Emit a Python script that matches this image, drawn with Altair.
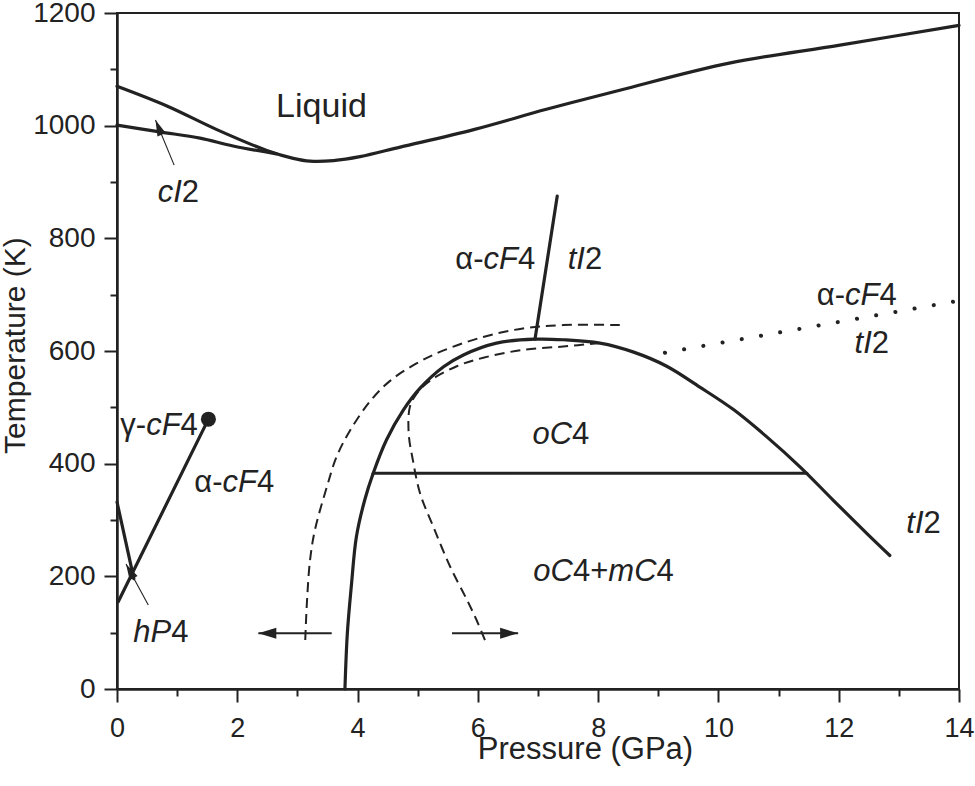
import math
import altair as alt
import pandas as pd

# ---- phase boundaries (pressure in GPa, temperature in K) ----
melt_p = [0.0, 0.83, 1.66, 2.49, 2.93, 3.21, 3.60, 4.04, 4.71, 5.93, 7.14, 8.36, 10.18, 12.02, 14.0]
melt_t = [1070, 1035, 993, 956, 942, 937, 938, 945, 962, 993, 1029, 1063, 1111, 1143, 1178]

ci2_p = [0.0, 0.71, 1.38, 1.93, 2.65]
ci2_t = [1001, 989, 978, 964, 950]

dome_p = [3.79, 3.83, 3.90, 3.98, 4.12, 4.26, 4.48, 4.76, 5.04, 5.43, 5.76, 6.31, 6.95,
          7.42, 8.03, 8.59, 9.14, 9.69, 10.25, 10.80, 11.36, 11.91, 12.47, 12.85]
dome_t = [0, 99, 187, 270, 336, 383, 442, 495, 534, 572, 593, 614, 621,
          620, 614, 598, 573, 536, 496, 448, 394, 335, 276, 237]

oc4_p = [4.26, 11.47]
oc4_t = [383, 383]

ti2_p = [6.95, 7.32]
ti2_t = [621, 875]

gamma_alpha_p = [0.02, 1.52]
gamma_alpha_t = [155, 479]

hp4_p = [0.0, 0.28]
hp4_t = [332, 196]

# dashed hysteresis limits
dash_up_p = [3.13, 3.16, 3.21, 3.29, 3.49, 3.65, 3.87, 4.21, 4.54, 4.98, 5.43, 6.09, 6.75, 7.42, 8.36]
dash_up_t = [87, 158, 229, 282, 359, 412, 458, 511, 547, 578, 601, 625, 640, 646, 646]

dash_lo_p = [8.03, 7.42, 6.75, 6.09, 5.65, 5.20, 4.98, 4.87, 4.85, 4.92, 5.04, 5.26, 5.54, 5.82, 5.98, 6.15]
dash_lo_t = [614, 608, 602, 588, 573, 547, 524, 501, 454, 406, 347, 288, 217, 158, 122, 78]

# dotted alpha-cF4 / tI2 boundary
dot_p = [9.11, 13.93]
dot_t = [597, 688]

# critical point
crit_p = [1.52]
crit_t = [479]

# arrows: (start P, start T, tip P, tip T)
big_arrows = [(3.57, 99, 2.35, 99), (5.57, 99, 6.67, 99)]
small_arrows = [(0.95, 930, 0.64, 1010), (0.52, 149, 0.15, 222)]

# region labels: centre P, baseline T, pieces (text, italic?)
labels = [
    (1.02, 865, [("cI", True), ("2", False)]),
    (6.29, 745, [("α-", False), ("cF", True), ("4", False)]),
    (7.78, 745, [("tI", True), ("2", False)]),
    (12.30, 682, [("α-", False), ("cF", True), ("4", False)]),
    (12.55, 597, [("tI", True), ("2", False)]),
    (0.70, 451, [("γ-", False), ("cF", True), ("4", False)]),
    (1.95, 350, [("α-", False), ("cF", True), ("4", False)]),
    (0.73, 84, [("hP", True), ("4", False)]),
    (7.38, 435, [("oC", True), ("4", False)]),
    (8.09, 192, [("oC", True), ("4+", False), ("mC", True), ("4", False)]),
    (13.41, 277, [("tI", True), ("2", False)]),
]
liquid_label = (3.40, 1015, "Liquid")

# ---- layout ----
W, H = 842, 676
P_MAX, T_MAX = 14, 1200
PX_P = W / P_MAX
PX_T = H / T_MAX
INK = "#222222"
FONT = "Liberation Sans"
LABEL_SIZE = 31

ADV = {"c": 0.5, "I": 0.278, "2": 0.556, "4": 0.556, "-": 0.333, "F": 0.611, "t": 0.278,
       "h": 0.556, "P": 0.667, "o": 0.556, "C": 0.722, "+": 0.584, "m": 0.833,
       "α": 0.578, "γ": 0.5}


def curve_frame(named):
    rows = []
    for name, ps, ts in named:
        for i, (p, t) in enumerate(zip(ps, ts)):
            rows.append({"P": p, "T": t, "curve": name, "i": i})
    return pd.DataFrame(rows)


solid = curve_frame([
    ("melt", melt_p, melt_t), ("ci2", ci2_p, ci2_t), ("dome", dome_p, dome_t),
    ("oc4", oc4_p, oc4_t), ("ti2", ti2_p, ti2_t),
    ("gamma_alpha", gamma_alpha_p, gamma_alpha_t), ("hp4", hp4_p, hp4_t),
])
dashed = curve_frame([("up", dash_up_p, dash_up_t), ("lo", dash_lo_p, dash_lo_t)])
dotted = curve_frame([("dot", dot_p, dot_t)])


def arrow_frames(arrows):
    shafts, heads = [], []
    for k, (p0, t0, p1, t1) in enumerate(arrows):
        shafts.append({"P": p0, "T": t0, "curve": k, "i": 0})
        shafts.append({"P": p1, "T": t1, "curve": k, "i": 1})
        dx = (p1 - p0) * PX_P
        dy = -(t1 - t0) * PX_T
        ang = math.degrees(math.atan2(dx, -dy)) % 360
        heads.append({"P": p1, "T": t1, "angle": ang})
    return pd.DataFrame(shafts), pd.DataFrame(heads)


big_shafts, big_heads = arrow_frames(big_arrows)
small_shafts, small_heads = arrow_frames(small_arrows)

piece_rows = []
for cp, bt, pieces in labels:
    total = sum(ADV.get(ch, 0.556) for s, _ in pieces for ch in s) * LABEL_SIZE
    left = cp * PX_P - total / 2
    for s, ital in pieces:
        piece_rows.append({"P": left / PX_P, "T": bt, "text": s, "italic": ital})
        left += sum(ADV.get(ch, 0.556) for ch in s) * LABEL_SIZE
pieces_df = pd.DataFrame(piece_rows)

x_scale = alt.Scale(domain=[0, P_MAX], nice=False, zero=False)
y_scale = alt.Scale(domain=[0, T_MAX], nice=False, zero=False)

x_axis = alt.Axis(
    title="Pressure (GPa)", values=list(range(0, 15)),
    labelExpr="datum.value % 2 === 0 ? datum.label : ''",
    tickSize={"condition": {"test": "datum.value % 2 === 0", "value": 13}, "value": 7},
    grid=False, labelFlush=False, labelOverlap=False,
    labelFontSize=27, labelBaseline="alphabetic", labelPadding=34,
    titleFontSize=31, titleFontWeight="normal", titleX=468, titleY=69,
    titleBaseline="alphabetic",
)
y_axis = alt.Axis(
    title="Temperature (K)", values=list(range(0, 1201, 100)), format="d",
    labelExpr="datum.value % 200 === 0 ? datum.label : ''",
    tickSize={"condition": {"test": "datum.value % 200 === 0", "value": 13}, "value": 7},
    grid=False, labelOverlap=False,
    labelFontSize=28, labelBaseline="middle", labelPadding=9,
    titleFontSize=30, titleFontWeight="normal", titleX=-93, titleY=332,
    titleBaseline="alphabetic", titleAngle=-90,
)


def xy():
    return dict(
        x=alt.X("P:Q", scale=x_scale, axis=x_axis),
        y=alt.Y("T:Q", scale=y_scale, axis=y_axis),
    )


solid_layer = alt.Chart(solid).mark_line(
    color=INK, strokeWidth=3.2, interpolate="catmull-rom", strokeCap="round"
).encode(detail="curve:N", order="i:Q", **xy())

dashed_layer = alt.Chart(dashed).mark_line(
    color=INK, strokeWidth=2, strokeDash=[10, 6], interpolate="catmull-rom"
).encode(detail="curve:N", order="i:Q", **xy())

dotted_layer = alt.Chart(dotted).mark_line(
    color=INK, strokeWidth=4, strokeDash=[0.1, 19.4], strokeCap="round"
).encode(detail="curve:N", order="i:Q", **xy())

big_shaft_layer = alt.Chart(big_shafts).mark_line(color=INK, strokeWidth=2).encode(
    detail="curve:N", order="i:Q", **xy())
small_shaft_layer = alt.Chart(small_shafts).mark_line(color=INK, strokeWidth=1.1).encode(
    detail="curve:N", order="i:Q", **xy())

big_head_layer = alt.Chart(big_heads).mark_point(
    shape="M0,0L0.3,1L-0.3,1Z", filled=True, size=1296, color=INK, opacity=1, strokeWidth=0
).encode(angle=alt.Angle("angle:Q", scale=None), **xy())
small_head_layer = alt.Chart(small_heads).mark_point(
    shape="M0,0L0.28,1L-0.28,1Z", filled=True, size=1024, color=INK, opacity=1, strokeWidth=0
).encode(angle=alt.Angle("angle:Q", scale=None), **xy())

crit_layer = alt.Chart(pd.DataFrame({"P": crit_p, "T": crit_t})).mark_point(
    shape="circle", filled=True, size=225, color=INK, opacity=1
).encode(**xy())

roman_layer = alt.Chart(pieces_df[~pieces_df["italic"]]).mark_text(
    align="left", baseline="alphabetic", font=FONT, fontSize=LABEL_SIZE, color=INK
).encode(text="text:N", **xy())
italic_layer = alt.Chart(pieces_df[pieces_df["italic"]]).mark_text(
    align="left", baseline="alphabetic", font=FONT, fontSize=LABEL_SIZE, fontStyle="italic", color=INK
).encode(text="text:N", **xy())
liquid_layer = alt.Chart(pd.DataFrame(
    {"P": [liquid_label[0]], "T": [liquid_label[1]], "text": [liquid_label[2]]}
)).mark_text(align="center", baseline="alphabetic", font=FONT, fontSize=34, color=INK).encode(
    text="text:N", **xy())

chart = alt.layer(
    dashed_layer, dotted_layer, solid_layer, big_shaft_layer, small_shaft_layer,
    big_head_layer, small_head_layer, crit_layer, roman_layer, italic_layer, liquid_layer,
).properties(
    width=W, height=H,
    autosize=alt.AutoSizeParams(type="none"),
    padding={"left": 117, "top": 13, "right": 16, "bottom": 97},
    background="white",
).configure_view(
    stroke=INK, strokeWidth=2,
).configure_axis(
    domainColor=INK, domainWidth=2.5, tickColor=INK, tickWidth=2,
    labelColor=INK, titleColor=INK, labelFont=FONT, titleFont=FONT,
)

chart.save("out.html", embed_options={"renderer": "svg", "actions": False})
